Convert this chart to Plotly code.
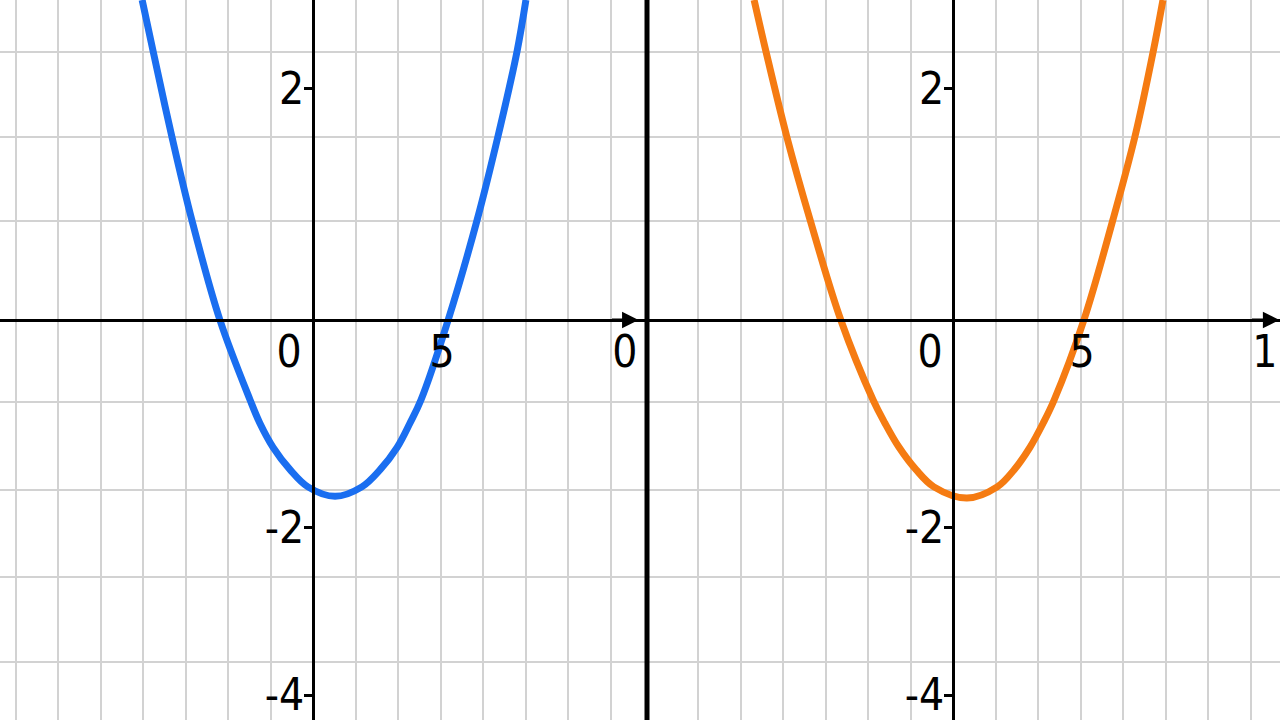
import plotly.graph_objects as go

# units: x = one vertical grid cell, y = one horizontal grid cell
blue_x = [-4.02, -3.76, -3.32, -2.85, -2.19, -1.48, -1.25, -0.94, -0.54, -0.12, 0.52,
          1.15, 1.58, 1.98, 2.28, 2.54, 3.18, 3.86, 4.35, 4.80, 5.01]
blue_y = [3.72, 3.12, 2.13, 1.16, 0.0, -0.93, -1.20, -1.48, -1.74, -1.94, -2.05,
          -1.94, -1.74, -1.48, -1.20, -0.93, 0.0, 1.16, 2.13, 3.12, 3.72]

orange_x = [-4.68, -4.40, -3.91, -3.36, -2.64, -1.88, -1.60, -1.27, -0.87, -0.45, 0.33,
            1.04, 1.44, 1.81, 2.12, 2.38, 3.08, 3.76, 4.28, 4.71, 4.94]
orange_y = [3.72, 3.12, 2.13, 1.16, 0.0, -0.93, -1.20, -1.48, -1.74, -1.94, -2.07,
            -1.94, -1.74, -1.48, -1.20, -0.93, 0.0, 1.16, 2.13, 3.12, 3.72]

# tick labels as they sit in the frame
left_xtick_vals = [-0.56, 3.04, 7.34]
right_xtick_vals = [-0.54, 3.04, 7.34]
left_xtick_text = ["0", "5", "0"]
right_xtick_text = ["0", "5", "1"]
ytick_vals = [2.69, -2.41, -4.36]
ytick_text = ["2", "-2", "-4"]

# grid lines
left_xgrid = [-7, -6, -5, -4, -3, -2, -1, 1, 2, 3, 4, 5, 6, 7]
right_xgrid = [-6, -5, -4, -3, -2, -1, 1, 2, 3, 4, 5, 6, 7]
ygrid = [3.12, 2.13, 1.15, -0.95, -1.98, -2.99, -3.98]

W, H = 1280, 720
split = 647 / W
font = dict(family="Liberation Sans Narrow, DejaVu Sans Condensed, Arial Narrow, sans-serif",
            size=44, color="black")
grid_col = "#d2d2d2"

fig = go.Figure()
fig.add_trace(go.Scatter(x=blue_x, y=blue_y, mode="lines", line_shape="spline",
                         line=dict(color="#1a6ef0", width=7, smoothing=1.0),
                         xaxis="x", yaxis="y"))
fig.add_trace(go.Scatter(x=orange_x, y=orange_y, mode="lines", line_shape="spline",
                         line=dict(color="#f57b12", width=7, smoothing=1.0),
                         xaxis="x2", yaxis="y2"))


def xax(domain, rng, tv, tt, grid):
    return dict(domain=domain, range=rng, anchor="free", position=400 / H,
                showline=True, linecolor="black", linewidth=3,
                tickmode="array", tickvals=tv, ticktext=tt, ticks="",
                tickfont=font, ticklabelstandoff=-8, ticklabeloverflow="allow",
                showgrid=False, zeroline=False, automargin=False,
                minor=dict(tickmode="array", tickvals=grid, showgrid=True,
                           gridcolor=grid_col, gridwidth=2, ticks=""))


def yax(pos):
    return dict(range=[-4.65, 3.72], anchor="free", position=pos,
                showline=True, linecolor="black", linewidth=3,
                tickmode="array", tickvals=ytick_vals, ticktext=ytick_text,
                ticks="outside", ticklen=8, tickwidth=3, tickcolor="black",
                tickfont=font, ticklabelstandoff=-9, ticklabeloverflow="allow",
                showgrid=False, zeroline=False, automargin=False,
                minor=dict(tickmode="array", tickvals=ygrid, showgrid=True,
                           gridcolor=grid_col, gridwidth=2, ticks=""))


fig.update_layout(
    width=W, height=H, autosize=False,
    margin=dict(l=0, r=0, t=0, b=0, pad=0, autoexpand=False),
    paper_bgcolor="white", plot_bgcolor="white", showlegend=False,
    xaxis=xax([0, split], [-313 / 42.5, 334 / 42.5], left_xtick_vals, left_xtick_text, left_xgrid),
    xaxis2=xax([split, 1], [-306 / 42.5, 327 / 42.5], right_xtick_vals, right_xtick_text, right_xgrid),
    yaxis=yax(313 / W),
    yaxis2=yax(953 / W),
    shapes=[dict(type="line", xref="x2 domain", yref="paper", x0=0, x1=0, y0=0, y1=1,
                 line=dict(color="black", width=5))],
    annotations=[
        dict(x=7.66, y=0, ax=7.0, ay=0, xref="x", yref="y", axref="x", ayref="y",
             text="", showarrow=True, arrowhead=2, arrowsize=1.1, arrowwidth=3, arrowcolor="black"),
        dict(x=7.68, y=0, ax=7.0, ay=0, xref="x2", yref="y2", axref="x2", ayref="y2",
             text="", showarrow=True, arrowhead=2, arrowsize=1.1, arrowwidth=3, arrowcolor="black"),
    ],
)

fig.write_html("out.html", config={"displayModeBar": False, "responsive": False},
               post_script="document.body.style.margin='0px';")
